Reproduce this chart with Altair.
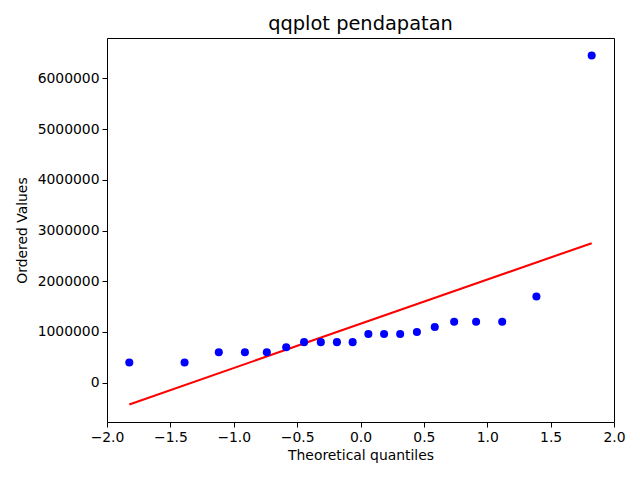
import altair as alt
import numpy as np
import pandas as pd

# Theoretical quantiles (x) and ordered values (y)
quantiles = [-1.824, -1.388, -1.118, -0.912, -0.739, -0.586, -0.445, -0.313, -0.186, -0.062,
             0.062, 0.186, 0.313, 0.445, 0.586, 0.739, 0.912, 1.118, 1.388, 1.824]
values = [400000, 400000, 600000, 600000, 600000, 700000, 800000, 800000, 800000, 800000,
          960000, 960000, 960000, 1000000, 1100000, 1200000, 1200000, 1200000, 1700000, 6450000]

x_ticks = [-2.0, -1.5, -1.0, -0.5, 0.0, 0.5, 1.0, 1.5, 2.0]
y_ticks = [0, 1000000, 2000000, 3000000, 4000000, 5000000, 6000000]

pts = pd.DataFrame({"q": quantiles, "v": values})
slope, intercept = np.polyfit(quantiles, values, 1)
line_x = [quantiles[0], quantiles[-1]]
line_df = pd.DataFrame({"q": line_x, "v": [slope * x + intercept for x in line_x]})

FONT = "DejaVu Sans"

xscale = alt.Scale(domain=[-2.0, 2.0], nice=False, zero=False)
yscale = alt.Scale(domain=[-774000, 6794000], nice=False, zero=False)

xaxis = alt.Axis(values=x_ticks, format=".1f", title="Theoretical quantiles", grid=False,
                 tickColor="black", domainColor="black", labelColor="black", titleColor="black",
                 tickSize=5, labelPadding=3, labelFontSize=13.9, titleFontSize=13.9,
                 titleFontWeight="normal", titlePadding=5, labelFont=FONT, titleFont=FONT,
                 labelFlush=False)
yaxis = alt.Axis(values=y_ticks, format="d", title="Ordered Values", grid=False,
                 tickColor="black", domainColor="black", labelColor="black", titleColor="black",
                 tickSize=5, labelPadding=3, labelFontSize=13.9, titleFontSize=13.9,
                 titleFontWeight="normal", titlePadding=8, labelFont=FONT, titleFont=FONT,
                 labelFlush=False)

frame_x = alt.Axis(orient="top", labels=False, ticks=False, title=None, grid=False,
                   domainColor="black", minExtent=0, maxExtent=0, offset=0)
frame_y = alt.Axis(orient="right", labels=False, ticks=False, title=None, grid=False,
                   domainColor="black", minExtent=0, maxExtent=0, offset=0)

points = alt.Chart(pts).mark_point(filled=True, color="#0000ff", size=65, opacity=1).encode(
    x=alt.X("q:Q", scale=xscale, axis=xaxis),
    y=alt.Y("v:Q", scale=yscale, axis=yaxis),
)

line = alt.Chart(line_df).mark_line(color="#ff0000", strokeWidth=2.1).encode(
    x=alt.X("q:Q", scale=xscale, axis=frame_x),
    y=alt.Y("v:Q", scale=yscale, axis=frame_y),
)

chart = alt.layer(line, points).resolve_axis(x="independent", y="independent").properties(
    width=507, height=384,
    title=alt.TitleParams("qqplot pendapatan", font=FONT, fontSize=19.4, fontWeight="normal",
                          color="black", anchor="middle", offset=4),
    autosize=alt.AutoSizeParams(type="none"),
    padding={"left": 99, "top": 30, "right": 18, "bottom": 50},
).configure_view(stroke=None).configure(background="white")

chart.save("out.html", embed_options={"renderer": "svg", "actions": False})
